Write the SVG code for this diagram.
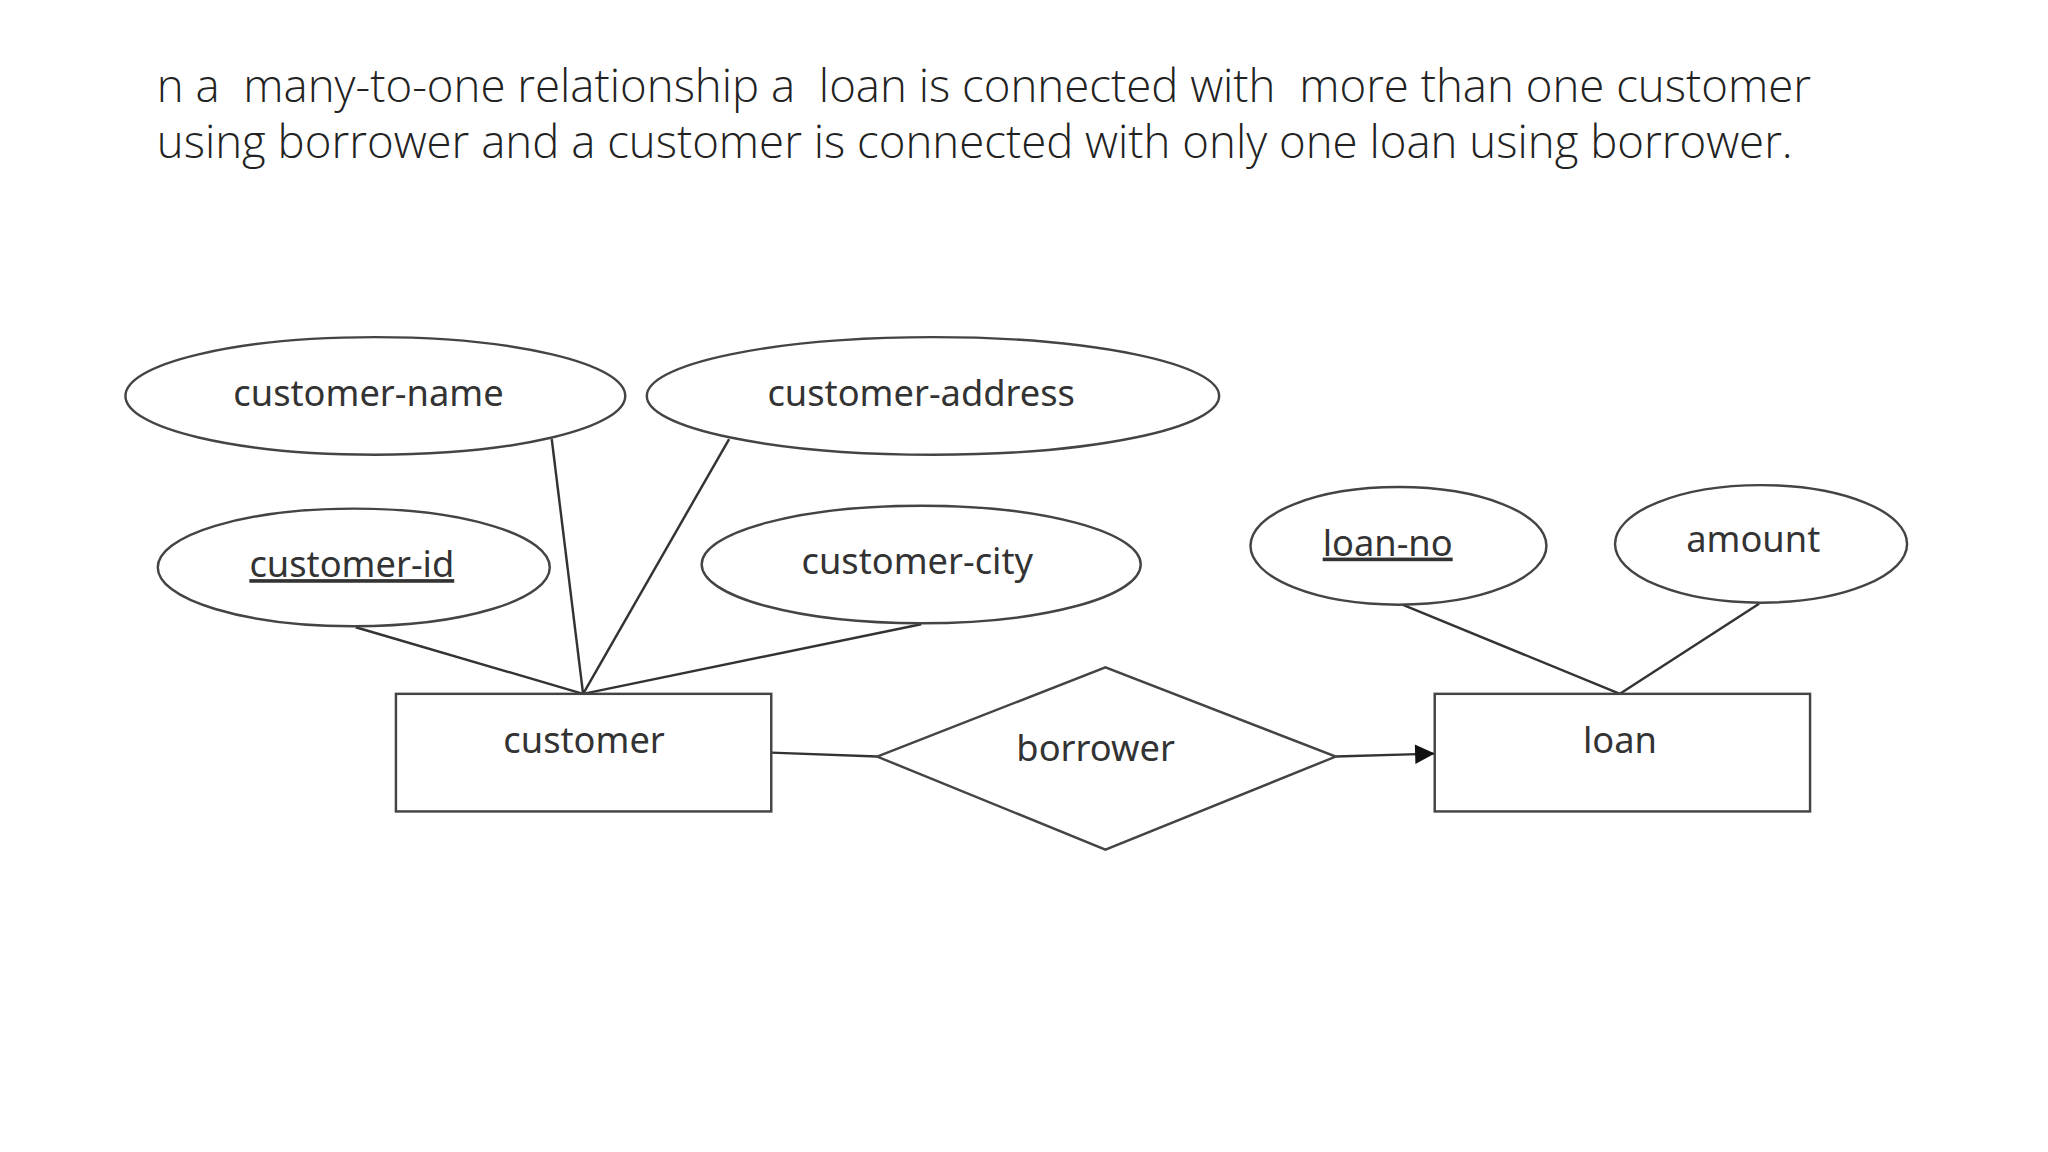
<svg xmlns="http://www.w3.org/2000/svg" width="2048" height="1152" viewBox="0 0 2048 1152">
<defs>
<style>
.s{fill:#fff;stroke:#444;stroke-width:2.5}
.l{stroke:#333;stroke-width:2.5;fill:none}
.t{font-family:"Noto Sans","Open Sans",sans-serif;font-size:37px;fill:#333;text-anchor:middle;dominant-baseline:middle}
.h{font-family:"Open Sans","Noto Sans",sans-serif;font-weight:300;font-size:46.5px;fill:#222;white-space:pre}
</style>
<marker id="a" viewBox="0 0 10 10" refX="10" refY="5" markerWidth="24" markerHeight="20" orient="auto" markerUnits="userSpaceOnUse"><path d="M0,0L10,5L0,10z" fill="#111"/></marker>
</defs>
<rect width="2048" height="1152" fill="#fff"/>
<g transform="scale(0.98)">
<text class="h" x="160" y="104" xml:space="preserve">n a  many-to-one relationship a  loan is connected with  more than one customer</text>
<text class="h" x="160" y="161">using borrower and a customer is connected with only one loan using borrower.</text>
<g id="connectors">
<line class="l" x1="563" y1="448" x2="595" y2="708"/>
<line class="l" x1="744" y1="448" x2="595" y2="708"/>
<line class="l" x1="363" y1="640" x2="595" y2="708"/>
<line class="l" x1="940" y1="637" x2="595" y2="708"/>
<line class="l" x1="1431" y1="617" x2="1653" y2="708"/>
<line class="l" x1="1795" y1="616" x2="1653" y2="708"/>
<line class="l" x1="787" y1="768" x2="895" y2="772"/>
<line class="l" x1="1363" y1="772" x2="1464" y2="769" marker-end="url(#a)"/>
</g>
<g id="customer-name"><ellipse class="s" cx="383" cy="404" rx="255" ry="60"/><text class="t" x="376" y="404">customer-name</text></g>
<g id="customer-address"><ellipse class="s" cx="952" cy="404" rx="292" ry="60"/><text class="t" x="940" y="404">customer-address</text></g>
<g id="customer-id"><ellipse class="s" cx="361" cy="579" rx="200" ry="60"/><text class="t" x="359" y="579" text-decoration="underline">customer-id</text></g>
<g id="customer-city"><ellipse class="s" cx="940" cy="576" rx="224" ry="60"/><text class="t" x="936" y="576">customer-city</text></g>
<g id="loan-no"><ellipse class="s" cx="1427" cy="557" rx="151" ry="60"/><text class="t" x="1416" y="557" text-decoration="underline">loan-no</text></g>
<g id="amount"><ellipse class="s" cx="1797" cy="555" rx="149" ry="60"/><text class="t" x="1789" y="553">amount</text></g>
<g id="customer"><rect class="s" x="404" y="708" width="383" height="120"/><text class="t" x="596" y="758">customer</text></g>
<g id="borrower"><polygon class="s" points="895,772 1128,681 1363,772 1128,867"/><text class="t" x="1118" y="767">borrower</text></g>
<g id="loan"><rect class="s" x="1464" y="708" width="383" height="120"/><text class="t" x="1653" y="758">loan</text></g>
</g>
</svg>
